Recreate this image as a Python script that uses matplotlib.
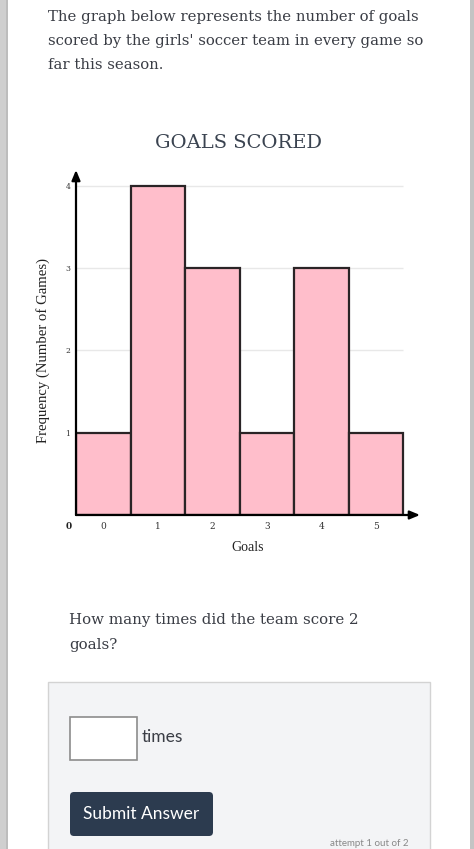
"""Goals scored histogram, drawn as the quiz page it sits in."""

## Libraries
import matplotlib
matplotlib.use("Agg")
import matplotlib.pyplot as plt
from matplotlib.patches import Rectangle, FancyBboxPatch

## Data
goals = [0, 1, 2, 3, 4, 5]
games = [1, 4, 3, 1, 3, 1]
y_ticks = [1, 2, 3, 4]

intro_lines = ["The graph below represents the number of goals",
               "scored by the girls' soccer team in every game so",
               "far this season."]
question_lines = ["How many times did the team score 2", "goals?"]

## Constants
W, H = 474, 849
SERIF = "DejaVu Serif"
SANS = "Lato"
TEXT = "#3a3d45"
PINK = "#ffbecb"
EDGE = "#2a2426"

fig = plt.figure(figsize=(W / 100, H / 100), dpi=100)
fig.patch.set_facecolor("white")

# page layer, one data unit = one pixel
page = fig.add_axes([0, 0, 1, 1])
page.set_xlim(0, W)
page.set_ylim(H, 0)
page.axis("off")

page.add_patch(Rectangle((0, 0), 8, H, fc="#cfcfcf", ec="none"))
page.add_patch(Rectangle((6, 0), 2, H, fc="#bdbdbd", ec="none"))
page.add_patch(Rectangle((470, 0), 4, H, fc="#c4c4c4", ec="none"))

for i, line in enumerate(intro_lines):
    page.text(48, 17 + i * 24, line, family=SERIF, fontsize=10.7, color=TEXT, va="center")

for i, line in enumerate(question_lines):
    page.text(69, 620 + i * 25, line, family=SERIF, fontsize=10.8, color=TEXT, va="center")

page.text(239, 143, "GOALS SCORED", family=SERIF, fontsize=14, color="#3a4350",
          ha="center", va="center")

# answer panel
page.add_patch(Rectangle((48, 682), 382, 200, fc="#f3f4f6", ec="#d3d3d3", lw=1))
page.add_patch(Rectangle((70, 717), 67, 43, fc="white", ec="#8c8c8c", lw=1.2))
page.text(142, 737, "times", family=SANS, fontsize=12.5, color=TEXT, va="center")
page.add_patch(FancyBboxPatch((70, 792), 143, 44, boxstyle="round,pad=0,rounding_size=4",
                              fc="#2c3b4f", ec="none"))
page.text(141.5, 814, "Submit Answer", family=SANS, fontsize=12.5, color="white",
          ha="center", va="center")
page.text(330, 848, "attempt 1 out of 2", family=SANS, fontsize=7, color="#888888",
          va="bottom")

# chart
ax = fig.add_axes([76 / W, (H - 515) / H, (420 - 76) / W, (515 - 170) / H])
ax.set_facecolor("none")
ax.bar(goals, games, width=1, color=PINK, edgecolor=EDGE, linewidth=1.6, zorder=3)
ax.hlines(y_ticks, -0.5, 5.5, color="#e8e8e8", lw=1, zorder=1)
ax.set_xlim(-0.5, 5.81)
ax.set_ylim(0, 4.19)

for s in ax.spines.values():
    s.set_visible(False)
for tip in [(0, 1), (1, 0)]:
    ax.annotate("", xy=tip, xytext=(0, 0), xycoords="axes fraction",
                arrowprops=dict(arrowstyle="-|>,head_length=0.6,head_width=0.25", lw=1.6,
                                color="black", shrinkA=0, shrinkB=0), zorder=5)

ax.set_xticks(goals)
ax.set_xticklabels([str(g) for g in goals], family=SERIF, fontsize=6.5, color="#333333")
ax.set_yticks(y_ticks)
ax.set_yticklabels([str(t) for t in y_ticks], family=SERIF, fontsize=5.5, color="#333333")
ax.tick_params(axis="x", length=0, pad=5)
ax.tick_params(axis="y", length=0, pad=4)
ax.text(-0.012, -0.02, "0", transform=ax.transAxes, family=SERIF, fontsize=6.5,
        color="#222222", ha="right", va="top", weight="bold")
ax.set_xlabel("Goals", family="Liberation Serif", fontsize=10, color="#222222", labelpad=7)
ax.set_ylabel("Frequency (Number of Games)", family="Liberation Serif", fontsize=10.6,
              color="#222222")
ax.yaxis.set_label_coords(-0.076, 0.478)

fig.savefig("out.png", dpi=100)
